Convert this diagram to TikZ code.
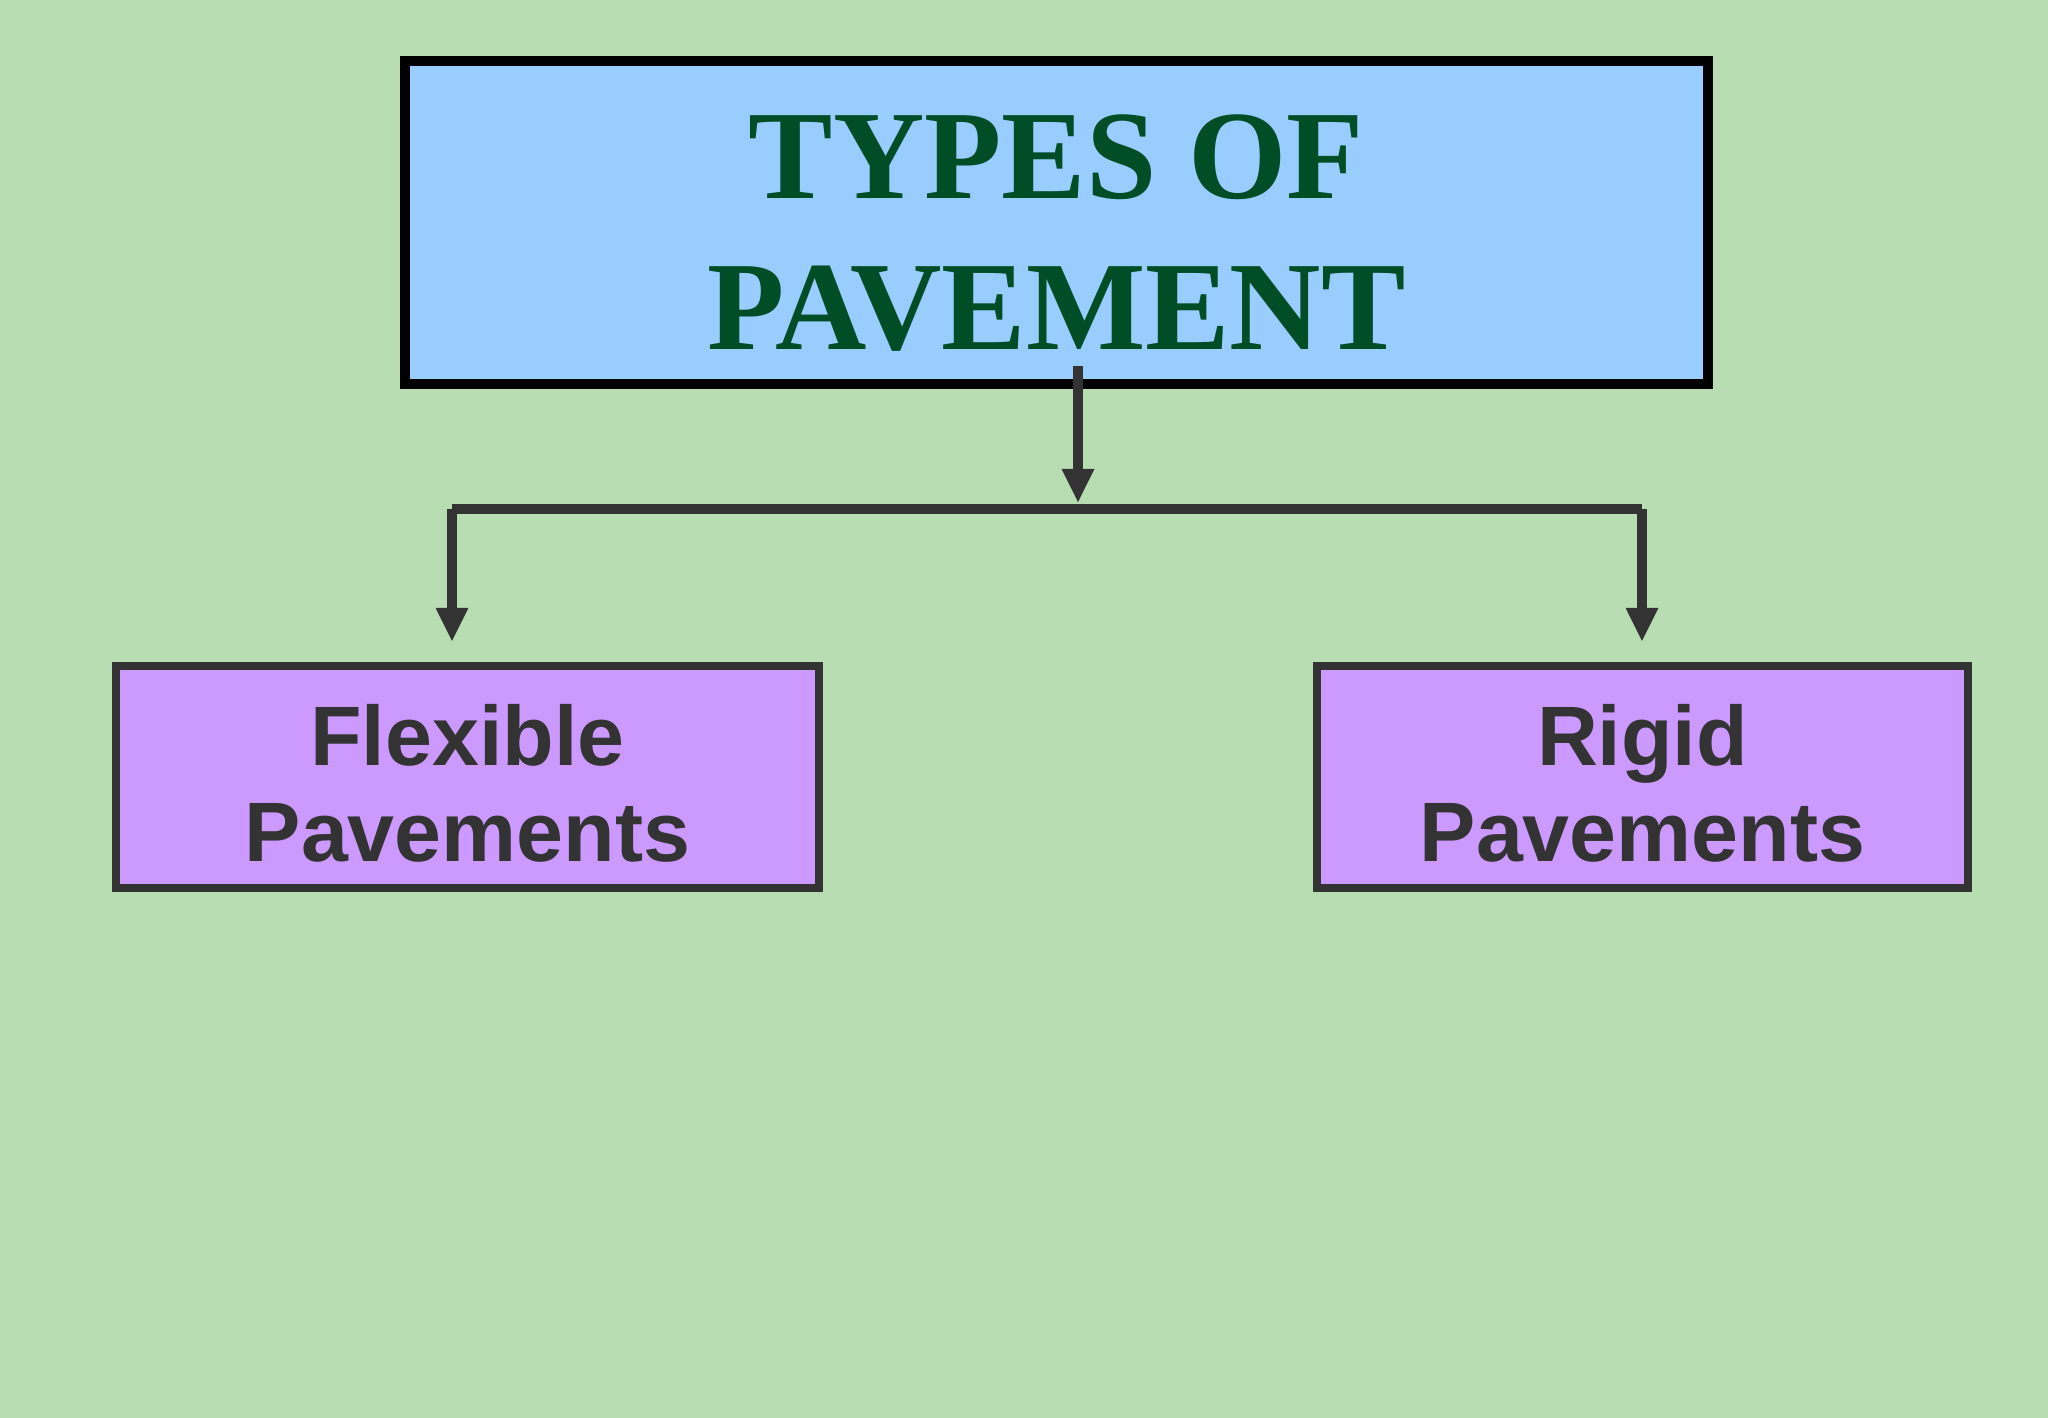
\documentclass[tikz,border=0pt]{standalone}
\usepackage{fontspec}
\setmainfont{Liberation Serif}
\newfontfamily\boxfont{Liberation Sans}
\usepackage{xcolor}
\usetikzlibrary{arrows.meta}
\definecolor{paper}{RGB}{184,221,178}
\definecolor{titleblue}{RGB}{153,204,255}
\definecolor{kindviolet}{RGB}{204,153,255}
\definecolor{darkgreen}{RGB}{0,77,38}
\definecolor{ink}{RGB}{51,51,51}
\newcommand\titlestrut{\rule{0pt}{30pt}}
\newcommand\kindstrut{\rule{0pt}{21pt}}

\begin{document}
\begin{tikzpicture}[%
  titlebox/.style={draw=black, line width=2.6pt, fill=titleblue,
    minimum width=13.03cm, minimum height=3.23cm, align=center,
    text=darkgreen, font=\fontsize{36}{43}\selectfont\bfseries},
  kindbox/.style={draw=ink, line width=2.3pt, fill=kindviolet,
    minimum height=2.22cm, align=center, text=ink,
    font=\boxfont\fontsize{24}{27.5}\selectfont\bfseries},
  link/.style={draw=ink, line width=2.6pt},
  linkarrow/.style={link, -{Triangle[length=3.4mm,width=3mm]}}]

\fill[paper] (0,0) rectangle (20.48,-14.18);
\useasboundingbox (0,0) rectangle (20.48,-14.18);

\node[titlebox] (types) at (10.565,-2.225) {\titlestrut TYPES OF\\PAVEMENT};
\node[kindbox, minimum width=7.03cm] (flexible) at (4.675,-7.77) {\kindstrut Flexible\\Pavements};
\node[kindbox, minimum width=6.51cm] (rigid) at (16.425,-7.77) {\kindstrut Rigid\\Pavements};

\coordinate (stem) at (10.78,-3.66);
\coordinate (barmid) at (10.78,-5.09);
\coordinate (barleft) at (4.52,-5.09);
\coordinate (barright) at (16.42,-5.09);

\draw[linkarrow, shorten >=0.6mm] (stem) -- (barmid);
\draw[link] (barleft) -- (barright);
\draw[linkarrow, shorten >=2mm] (barleft) -- (barleft |- flexible.north);
\draw[linkarrow, shorten >=2mm] (barright) -- (barright |- rigid.north);
\end{tikzpicture}
\end{document}
